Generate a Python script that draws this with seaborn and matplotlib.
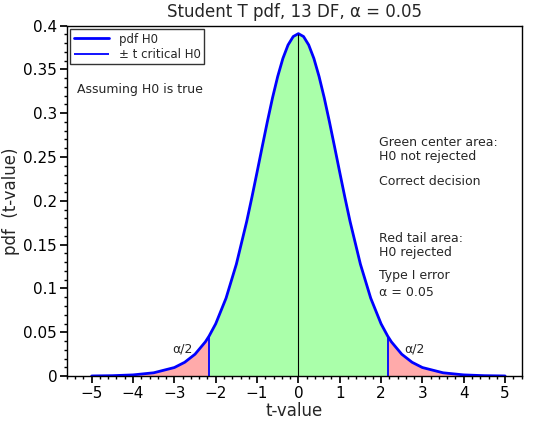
import matplotlib
matplotlib.use("Agg")
import matplotlib.pyplot as plt
import seaborn as sns
import numpy as np
from matplotlib.ticker import MultipleLocator

sns.set_theme(style="white")
plt.rcParams['font.family'] = ['DejaVu Sans']

# pdf of t(13) read at these points (positive half, mirrored)
t_pos = [0, 0.125, 0.25, 0.375, 0.5, 0.625, 0.75, 0.875, 1, 1.125, 1.25, 1.5, 1.75, 2, 2.16,
         2.25, 2.5, 2.75, 3, 3.5, 4, 4.5, 5]
pdf_pos = [0.3907, 0.3874, 0.3778, 0.3624, 0.3419, 0.3176, 0.2904, 0.2617, 0.2326, 0.2039,
           0.1765, 0.1278, 0.0889, 0.0597, 0.0457, 0.0391, 0.0250, 0.0158, 0.0098, 0.0038,
           0.0014, 0.0005, 0.0002]
t_crit = 2.16
pdf_crit = 0.0457

t = np.array([-v for v in t_pos[::-1]] + t_pos[1:])
pdf = np.array(pdf_pos[::-1] + pdf_pos[1:])

fig, ax = plt.subplots(figsize=(5.35, 4.25), dpi=100)
fig.subplots_adjust(left=0.125, right=0.975, bottom=0.115, top=0.94)

ax.fill_between(t, pdf, where=(np.abs(t) <= t_crit + 1e-9), color='#aaffaa', lw=0)
ax.fill_between(t, pdf, where=(t <= -t_crit + 1e-9), color='#ffaaaa', lw=0)
ax.fill_between(t, pdf, where=(t >= t_crit - 1e-9), color='#ffaaaa', lw=0)
sns.lineplot(x=t, y=pdf, ax=ax, color='blue', lw=2, label='pdf H0')
ax.vlines([-t_crit, t_crit], 0, pdf_crit, color='blue', lw=1.3, label='± t critical H0')
ax.vlines([0], 0, pdf_pos[0], color='black', lw=0.8)

ax.set_xlim(-5.6, 5.4)
ax.set_ylim(0, 0.4)
ax.xaxis.set_major_locator(MultipleLocator(1))
ax.yaxis.set_minor_locator(MultipleLocator(0.01))
ax.xaxis.set_minor_locator(MultipleLocator(0.2))
ax.set_yticks([0, 0.05, 0.1, 0.15, 0.2, 0.25, 0.3, 0.35, 0.4])
ax.set_yticklabels(['0', '0.05', '0.1', '0.15', '0.2', '0.25', '0.3', '0.35', '0.4'])
ax.tick_params(which='both', direction='out', bottom=True, left=True, labelsize=11, colors='black', pad=2)
ax.tick_params(which='major', length=5)
ax.tick_params(which='minor', length=2.5)
for s in ax.spines.values():
    s.set_color('black'); s.set_linewidth(1)

ax.set_xlabel('t-value', fontsize=12, labelpad=1)
ax.set_ylabel('pdf  (t-value)', fontsize=12, labelpad=2)
ax.set_title('Student T pdf, 13 DF, α = 0.05', fontsize=12)

leg = ax.legend(loc='upper left', fontsize=8.5, frameon=True, fancybox=False,
                edgecolor='black', borderaxespad=0.3, handlelength=3, borderpad=0.3,
                labelspacing=0.2)
leg.get_frame().set_linewidth(1)

ax.text(-5.35, 0.323, 'Assuming H0 is true', fontsize=9)
ax.text(1.95, 0.246, 'Green center area:\nH0 not rejected', fontsize=9, linespacing=1.1)
ax.text(1.95, 0.218, 'Correct decision', fontsize=9)
ax.text(1.95, 0.137, 'Red tail area:\nH0 rejected', fontsize=9, linespacing=1.1)
ax.text(1.95, 0.111, 'Type I error', fontsize=9)
ax.text(1.95, 0.091, 'α = 0.05', fontsize=9)
ax.text(-3.05, 0.027, 'α/2', fontsize=9)
ax.text(2.55, 0.027, 'α/2', fontsize=9)

fig.savefig('out.png', dpi=100)
